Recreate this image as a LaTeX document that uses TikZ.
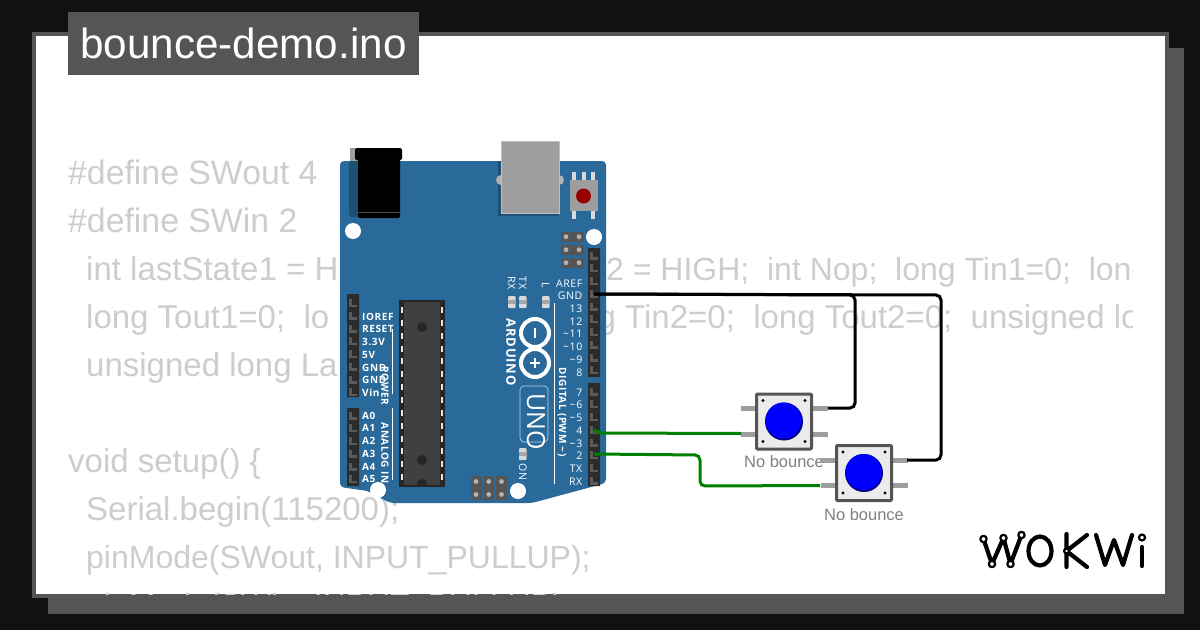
\documentclass[tikz,border=0pt]{standalone}
\usepackage{fontspec}
\usepackage{tkz-euclide}
\setmainfont{Liberation Sans}
\newfontfamily\boardfont[LetterSpace=6]{Open Sans}
\newfontfamily\logofont{Open Sans}
\definecolor{pagedark}{HTML}{111111}
\definecolor{framegray}{HTML}{555555}
\definecolor{ghost}{HTML}{CDCDCD}
\definecolor{boardblue}{HTML}{2A6A9A}
\definecolor{boardshade}{HTML}{1E4F75}
\definecolor{metal}{HTML}{9E9E9E}
\definecolor{hdrdark}{HTML}{2B2B2B}
\definecolor{hdrpin}{HTML}{5A5A5A}
\definecolor{wiregreen}{HTML}{008000}
\begin{document}
\begin{tikzpicture}[x=1pt,y=-1pt,
  code/.style={anchor=base west,inner sep=0,text=ghost,font=\fontsize{33}{33}\selectfont},
  pinlabel/.style={anchor=base east,inner sep=0,text=white,font=\boardfont\fontsize{10.5}{10.5}\selectfont},
  powerlabel/.style={anchor=base west,inner sep=0,text=white,font=\boardfont\bfseries\fontsize{10}{10}\selectfont},
  sidelabel/.style={rotate=-90,inner sep=0,text=white,font=\boardfont\bfseries\fontsize{10}{10}\selectfont},
  hole/.style={circle,fill=white,minimum size=16pt,inner sep=0},
  swbody/.style={draw=framegray,line width=3pt,fill=black!8,rounded corners=1pt,minimum size=55pt,inner sep=0},
  swname/.style={inner sep=0,text=black!50,font=\fontsize{16.5}{16.5}\selectfont},
  swpin/.style={metal,line width=5pt},
  wire/.style={line width=3pt,rounded corners=5pt},
  logo/.style={line width=4.2pt,line cap=round,line join=round}]
\useasboundingbox(0,0)rectangle(1200,630);
\fill[pagedark](0,0)rectangle(1200,630);
\fill[framegray](48,48)rectangle(1184,614);
\fill[white,draw=framegray,line width=4pt](34,34)rectangle(1167,596);
% code behind the board
\begin{scope}
\clip(68,36)rectangle(1132,594);
\node[code,font=\fontsize{33.8}{33.8}\selectfont](c1)at(68,184){\#define SWout 4};
\node[code,font=\fontsize{33.8}{33.8}\selectfont](c2)at(68,232){\#define SWin 2};
\node[code](c3)at(86,280){int lastState1 = H};
\node[code,font=\fontsize{32}{32}\selectfont](c3b)at(606,280){2 = HIGH;\ \ int Nop;\ \ long Tin1=0;\ \ long};
\node[code](c4)at(86,328){long Tout1=0;\ \ lo};
\node[code](c4b)at(597.5,328){g Tin2=0;\ \ long Tout2=0;\ \ unsigned long};
\node[code](c5)at(86,376){unsigned long La};
\node[code](c6)at(68,472){void setup() \{};
\node[code](c7)at(86,520){Serial.begin(115200);};
\node[code,font=\fontsize{32}{32}\selectfont](c8)at(86,568){pinMode(SWout, INPUT\_PULLUP);};
\node[code,font=\fontsize{32}{32}\selectfont](c9)at(86,616){pinMode(SWin, INPUT\_PULLUP);};
\end{scope}
\node[fill=framegray,text=white,inner sep=0,minimum width=351pt,minimum height=63pt,
  font=\fontsize{42.2}{42.2}\selectfont](title)at(243.5,43.5){bounce-demo.ino};
% board
\fill[boardblue,rounded corners=4pt](340,161)--(606,161)--(606,483)--(532,503)--(390,503)--(368,491)--(340,487)--cycle;
\fill[metal](350,148)rectangle(358,161);
\fill[boardshade,rounded corners=3pt](349,161)rectangle(399,217);
\fill[black,rounded corners=1.5pt](355,148)rectangle(402,160);
\fill[black,rounded corners=2pt](358,155)rectangle(400,218);
\draw[black!70,line width=.8pt](358,212)--(400,212);
\fill[boardshade](498,161)rectangle(558,216);
\fill[black!30](501,180)circle(5)(559,180)circle(5);
\fill[metal,draw=black!25,line width=.6pt](501,141)rectangle(559,213);
% reset
\foreach \x in {574,583.5,593}{\fill[white!85!black](\x-2,172)rectangle(\x+2,182);}
\foreach \x in {574,593}{\fill[white!85!black](\x-2,209)rectangle(\x+2,219);}
\fill[metal](570,180)rectangle(598,211);
\fill[red!60!black](583.5,196)circle(7.5);
% icsp
\foreach \y in {232,245,258}{
  \fill[framegray](561,\y)rectangle(584,\y+9.5);
  \fill[black!30](566,\y+4.7)circle(2.4)(579,\y+4.7)circle(2.4);}
\foreach \x in {476,488.7,501.5}{
  \fill[framegray](\x-5.5,476)rectangle(\x+5.5,500);
  \fill[black!30](\x,481.5)circle(2.4)(\x,494.5)circle(2.4);}
% headers
\fill[hdrdark](588,248)rectangle(600,377)(588,383)rectangle(600,486)
  (347,294)rectangle(359,397)(347,408)rectangle(359,486);
\foreach \x/\first/\n in {594/255.5/9,594/391.7/7,353/303/7,353/415.5/5}{
  \foreach \i in {0,...,\n}{
    \fill[hdrpin](\x-4,\first+\i*12.75-4)rectangle(\x+4,\first+\i*12.75+4);
    \fill[hdrdark](\x-1.5,\first+\i*12.75-4)rectangle(\x+4,\first+\i*12.75+1.5);}}
% chip
\fill[black!85](399,300)rectangle(445,487);
\fill[black!75,rounded corners=2pt](404,302)rectangle(440,485);
\foreach \i in {0,...,13}{
  \fill[white!90!black](401,310+\i*12.85-3)rectangle(403,310+\i*12.85+3);
  \fill[white!90!black](441,310+\i*12.85-3)rectangle(443,310+\i*12.85+3);}
\fill[black!85](422,327)circle(5)(422,460)circle(5);
\begin{scope}
\clip(404,475)rectangle(440,485);
\fill[black!85](422,484)circle(5);
\end{scope}
% mounting holes
\node[hole](h1)at(353,231){};
\node[hole](h2)at(594,237){};
\node[hole](h3)at(378,490){};
\node[hole](h4)at(518,491){};
% leds
\foreach \x/\y in {508/296,519/296,542/296,519/448}{
  \fill[white!85!black,rounded corners=1pt](\x,\y)rectangle(\x+7.5,\y+12);
  \fill[black!35](\x,\y+4)rectangle(\x+7.5,\y+8);}
\node[sidelabel,font=\boardfont\fontsize{10.5}{10.5}\selectfont](rx)at(511.5,283){RX};
\node[sidelabel,font=\boardfont\fontsize{10.5}{10.5}\selectfont](tx)at(522.5,283){TX};
\node[sidelabel,font=\boardfont\fontsize{10.5}{10.5}\selectfont](led)at(545.5,285){L};
\node[sidelabel,font=\boardfont\fontsize{10.5}{10.5}\selectfont](on)at(523,472){ON};
\node[sidelabel,font=\boardfont\bfseries\fontsize{13}{13}\selectfont](ard)at(511,352){ARDUINO};
\draw[white,line width=4pt](535,333)circle(14)(535,363)circle(14);
\draw[white,line width=2.4pt](535,328)--(535,338)(530,363)--(540,363)(535,358)--(535,368);
\draw[white!70!boardblue,line width=.7pt,rounded corners=4pt](520,386)rectangle(548,442);
\node[rotate=-90,inner sep=0,text=white,font=\logofont\fontsize{25}{25}\selectfont](uno)at(536,422){UNO};
\node[sidelabel](dig)at(562,412){DIGITAL (PWM \textasciitilde)};
\node[sidelabel](pow)at(385,386){POWER};
\node[sidelabel](ana)at(385,453){ANALOG IN};
\draw[white,line width=.7pt](554,303)--(554,484)(392,329)--(392,394)(392,408)--(392,480);
\foreach \t/\y in {AREF/287,GND/299.5,13/312.5,12/325,\textasciitilde11/337.5,\textasciitilde10/350.5,\textasciitilde9/363,8/376,
  7/396,\textasciitilde6/408.5,\textasciitilde5/421.5,4/434,\textasciitilde3/447,2/459.5,TX/472.5,RX/485}
  \node[pinlabel]at(582.5,\y){\t};
\foreach \t/\y in {IOREF/320,RESET/332.5,3.3V/345.5,5V/358,GND/371,GND/383.5,Vin/396.5,
  A0/419,A1/431.5,A2/444.5,A3/457,A4/470,A5/482.5}
  \node[powerlabel]at(362,\y){\t};
% pushbuttons
\foreach \nm/\x/\y in {swa/784/421.5,swb/864/473}{
  \draw[swpin](\x-43,\y-13)--(\x-29,\y-13)(\x-43,\y+12.5)--(\x-29,\y+12.5)
    (\x+29,\y-13)--(\x+44,\y-13)(\x+29,\y+12.5)--(\x+44,\y+12.5);
  \node[swbody](\nm)at(\x,\y){};
  \fill[black](\x-21,\y-21)circle(1.6)(\x+21,\y-21)circle(1.6)(\x-21,\y+20)circle(1.6)(\x+21,\y+20)circle(1.6);
  \fill[blue!50!black](\x,\y)circle(19);
  \fill[blue](\x-.5,\y-1)circle(18);
}
\node[swname](lba)at(784,462){No bounce};
\node[swname](lbb)at(864,515){No bounce};
\draw[swpin](820,460)--(834,460);
% wires
\tkzDefPoints{594/294/GN,594/430/P4,594/454/P2,741/433.5/AL,828/408/AR,820/485.5/BL,907/460/BR}
\draw[wire,black](GN)--(855,295)--(855,408)--(AR);
\draw[wire,black](GN)--(941,295)--(941,460)--(BR);
\draw[wire,wiregreen](P4)--(598,433)--(AL);
\draw[wire,wiregreen](P2)--(700,455)--(700,486)--(BL);
% logo
\begin{scope}[logo]
\draw(983.5,539)--(992,564)--(1003.5,538)--(1010.5,564)--(1021.5,535);
\draw(1040,551)ellipse(11.5 and 14.5);
\draw(1066.5,534)--(1066.5,567)(1087,535)--(1066.5,551)--(1087,567);
\draw(1096,535)--(1105,565)--(1114,540)--(1123,565)--(1132,535);
\draw(1142,547)--(1142,566);
\draw[line width=2.2pt,fill=white](983.5,539)circle(3.2)(992,564)circle(3.2)(1003.5,538)circle(3.2)
  (1010.5,564)circle(3.2)(1021.5,535)circle(3.2)(1066.5,551)circle(2.4);
\draw[line width=2.2pt,fill=white](1142,537.5)circle(3);
\end{scope}
\end{tikzpicture}
\end{document}
